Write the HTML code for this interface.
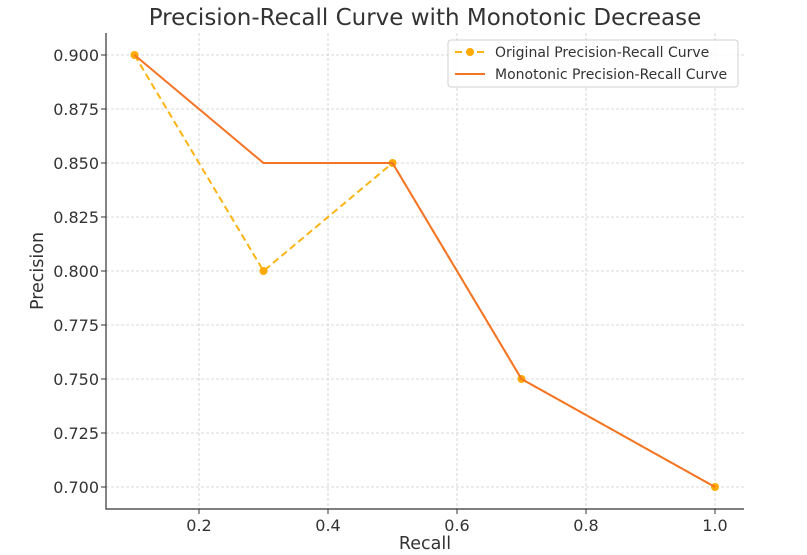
<!DOCTYPE html>
<html><head><meta charset="utf-8"><style>
body{margin:0;background:#fff;}
svg text{font-family:"DejaVu Sans","Liberation Sans",sans-serif;fill:#333;}
</style></head><body>
<svg id="chart" width="807" height="550"></svg>
<script>
const recall = [0.1, 0.3, 0.5, 0.7, 1.0];
const originalPrecision = [0.9, 0.8, 0.85, 0.75, 0.7];
const monotonicPrecision = [0.9, 0.85, 0.85, 0.75, 0.7];
const xTicks = [0.2, 0.4, 0.6, 0.8, 1.0];
const xTickLabels = ["0.2", "0.4", "0.6", "0.8", "1.0"];
const yTicks = [0.7, 0.725, 0.75, 0.775, 0.8, 0.825, 0.85, 0.875, 0.9];
const yTickLabels = ["0.700", "0.725", "0.750", "0.775", "0.800", "0.825", "0.850", "0.875", "0.900"];

const NS = "http://www.w3.org/2000/svg";
const svg = document.getElementById("chart");
function X(v){return 134.5 + (v - 0.1) * 645;}
function Y(v){return 487 - (v - 0.7) * 2160;}
function mk(tag, attrs, parent){const e=document.createElementNS(NS,tag);for(const k in attrs)e.setAttribute(k,attrs[k]);(parent||svg).appendChild(e);return e;}
const L=106,R=744,T=33,B=509;

const grid = mk("g",{});


xTicks.forEach((t,i)=>{
  const x=X(t);
  const g=mk("line",{x1:x,x2:x,y1:T,y2:B,stroke:"#ccc","stroke-dasharray":"3,2","stroke-width":0.8},grid);
  
  
  const tk=mk("line",{x1:x,x2:x,y1:B,y2:B+5,stroke:"#333","stroke-width":1});
  
  
  const lb=mk("text",{x:x,y:B+22,"text-anchor":"middle","font-size":16});
  lb.textContent=xTickLabels[i];
  
  
});
yTicks.forEach((t,i)=>{
  const y=Y(t);
  const g=mk("line",{x1:L,x2:R,y1:y,y2:y,stroke:"#ccc","stroke-dasharray":"3,2","stroke-width":0.8},grid);
  
  
  const tk=mk("line",{x1:L-5,x2:L,y1:y,y2:y,stroke:"#333","stroke-width":1});
  
  
  const lb=mk("text",{x:L-7,y:y+6,"text-anchor":"end","font-size":16});
  lb.textContent=yTickLabels[i];
  
  
});
const ax=mk("path",{d:`M${L},${T}V${B}H${R}`,fill:"none",stroke:"#333","stroke-width":1.2});



const orig=mk("polyline",{points:recall.map((r,i)=>X(r)+","+Y(originalPrecision[i])).join(" "),fill:"none",stroke:"#fbb412","stroke-width":2,"stroke-dasharray":"7,4"});


recall.forEach((r,i)=>{
  const c=mk("circle",{cx:X(r),cy:Y(originalPrecision[i]),r:4,fill:"#ffaa00"});
  
  
});
const mono=mk("polyline",{points:recall.map((r,i)=>X(r)+","+Y(monotonicPrecision[i])).join(" "),fill:"none",stroke:"#f47425","stroke-width":2});



const title=mk("text",{x:425,y:25,"text-anchor":"middle","font-size":23});
title.textContent="Precision-Recall Curve with Monotonic Decrease";


const xt=mk("text",{x:425,y:549,"text-anchor":"middle","font-size":17.5});
xt.textContent="Recall";


const yt=mk("text",{x:43,y:271,"text-anchor":"middle","font-size":17.5,transform:"rotate(-90 43 271)"});
yt.textContent="Precision";



const lg=mk("g",{});


mk("rect",{x:448,y:40,width:290,height:47,rx:3,fill:"#fff","fill-opacity":0.85,stroke:"#d0d0d0"},lg);
const e1=mk("line",{x1:455,x2:485,y1:52,y2:52,stroke:"#fbb412","stroke-width":2,"stroke-dasharray":"7,4"},lg);


mk("circle",{cx:470,cy:52,r:4,fill:"#ffaa00"},lg);
const t1=mk("text",{x:495,y:57,"font-size":14},lg);
t1.textContent="Original Precision-Recall Curve";


const e2=mk("line",{x1:455,x2:485,y1:74,y2:74,stroke:"#f47425","stroke-width":2},lg);


const t2=mk("text",{x:495,y:79,"font-size":14},lg);
t2.textContent="Monotonic Precision-Recall Curve";


</script>
</body></html>
